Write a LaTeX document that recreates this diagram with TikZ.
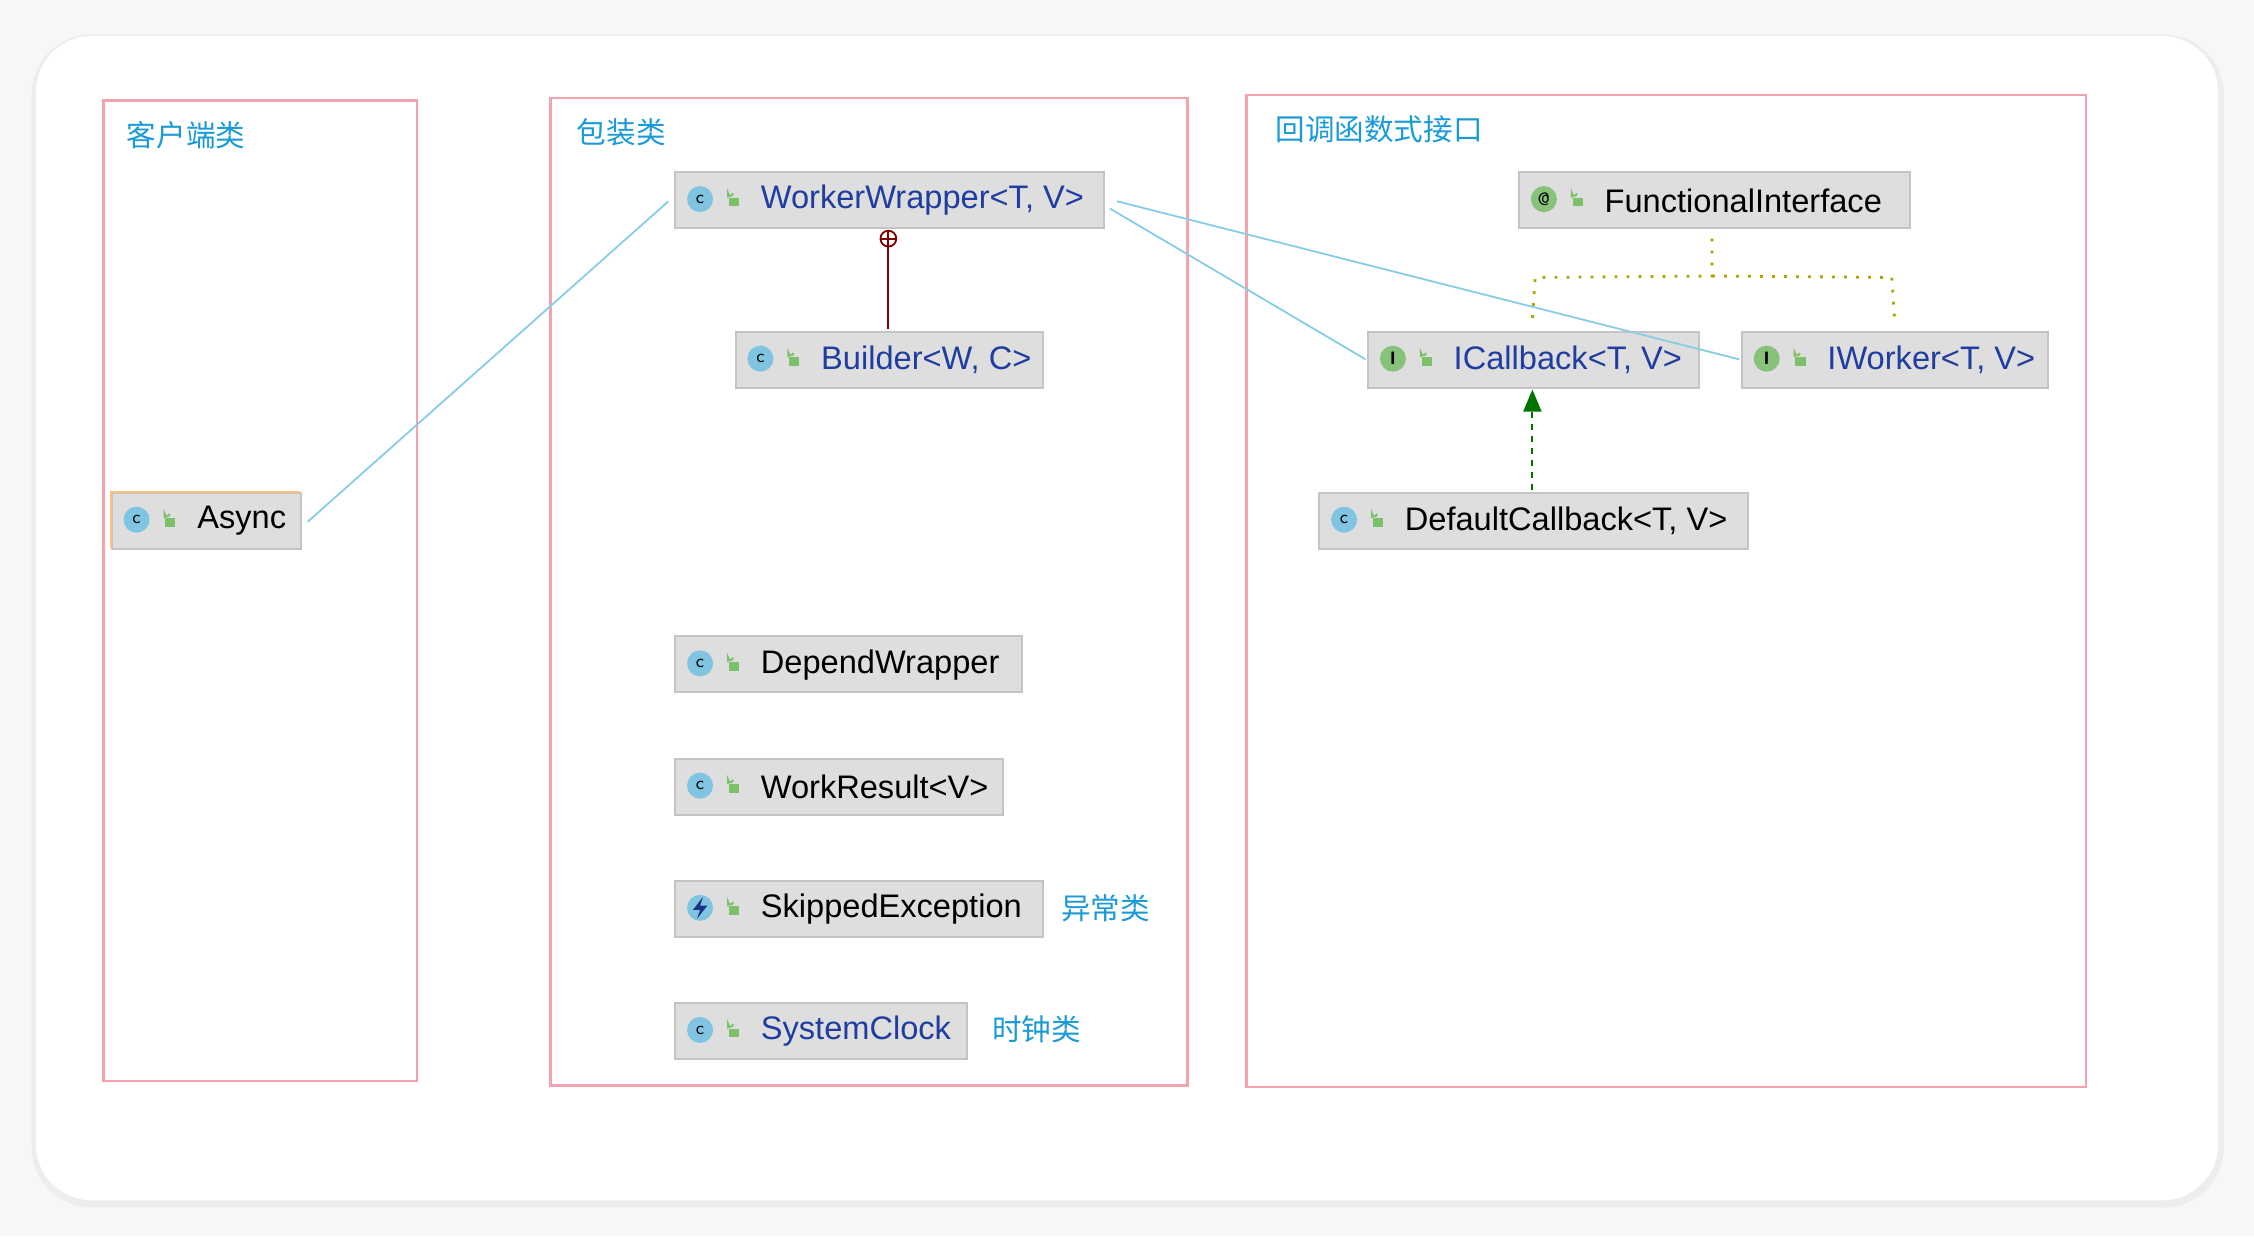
\documentclass[tikz,border=0pt]{standalone}
\usepackage{fontspec}
\setmainfont{Liberation Sans}
\newfontfamily\cjk{Noto Sans CJK SC}
\usetikzlibrary{arrows.meta,calc}
\definecolor{pinkb}{HTML}{F4A3AE}
\definecolor{ttl}{HTML}{1A9AD6}
\definecolor{cblue}{HTML}{1F3DA0}
\definecolor{boxf}{HTML}{DEDEDE}
\definecolor{boxd}{HTML}{C4C4C4}
\definecolor{icc}{HTML}{7FC4E0}
\definecolor{ici}{HTML}{86C27A}
\definecolor{lck}{HTML}{7CC06A}
\definecolor{lnk}{HTML}{86CDE6}
\definecolor{olv}{HTML}{A8A800}
\tikzset{
 panel/.style={draw=pinkb,line width=1.2pt},
 ttlf/.style={text=ttl,font=\cjk\fontsize{14.8}{16}\selectfont,anchor=west,inner sep=0},
 box/.style={draw=boxd,fill=boxf,line width=1pt,anchor=north west,inner sep=0},
 ctext/.style={anchor=west,inner sep=0,font=\fontsize{16.3}{18}\selectfont},
 icon/.style={circle,inner sep=0,minimum size=13pt,font=\sffamily\fontsize{9}{9}\selectfont},
 lnk/.style={draw=lnk,line width=0.9pt},
 dots/.style={olv,line width=1.4pt,dash pattern=on 1.4pt off 4.6pt},
}
\newcommand{\mkcls}[8]{% name x1 y1 x2 y2 iconfill icontext text
 \node[box,minimum width={(#4-#2)*0.71875pt},minimum height={(#5-#3)*0.71875pt}] (#1) at (#2,#3) {};
 \node[icon,fill=#6] (#1-ic) at (#2+18,{(#3+#5)/2}) {#7};
 \fill[lck] (#2+38,{(#3+#5)/2-1}) rectangle (#2+45,{(#3+#5)/2+5});
 \draw[lck,line width=1pt] (#2+37.5,{(#3+#5)/2-1}) -- (#2+37.5,{(#3+#5)/2-4}) arc (180:0:1.7);
 \node[ctext] (#1-t) at (#2+60,{(#3+#5)/2+1}) {#8};
}
\begin{document}
\begin{tikzpicture}[x=0.71875pt,y=-0.71875pt]
\useasboundingbox (0,0) rectangle (1568,860);
\fill[gray!6] (0,0) rectangle (1568,860);
\fill[gray!14,rounded corners=30] (22,24) rectangle (1547,840);
\fill[white,rounded corners=28] (25,25) rectangle (1543,835);
% panels
\draw[panel] (72,70) rectangle (290,752);
\draw[panel] (383,68) rectangle (826,755);
\draw[panel] (867,66) rectangle (1451,756);
\node[ttlf] (t1) at (88,94) {客户端类};
\node[ttlf] (t2) at (401,92) {包装类};
\node[ttlf] (t3) at (887,90) {回调函数式接口};
% classes
\mkcls{ww}{469}{119}{767}{158}{icc}{c}{\textcolor{cblue}{WorkerWrapper<T, V>}}
\mkcls{bd}{511}{230}{725}{269}{icc}{c}{\textcolor{cblue}{Builder<W, C>}}
\mkcls{as}{77}{342}{209}{381}{icc}{c}{Async}
\draw[orange!50,line width=1pt] (77,381) -- (77,342) -- (209,342);
\mkcls{dw}{469}{442}{710}{481}{icc}{c}{DependWrapper}
\mkcls{wr}{469}{527}{697}{566}{icc}{c}{WorkResult<V>}
\mkcls{se}{469}{612}{725}{651}{icc}{}{SkippedException}
\fill[cblue!80!black] (489,624) -- (482,633) -- (487,633) -- (485,639) -- (492,630) -- (487,630) -- cycle;
\mkcls{sc}{469}{697}{672}{736}{icc}{c}{\textcolor{cblue}{SystemClock}}
\mkcls{fi}{1056}{119}{1328}{158}{ici}{@}{FunctionalInterface}
\mkcls{ic}{951}{230}{1181}{269}{ici}{\textbf{I}}{\textcolor{cblue}{ICallback<T, V>}}
\mkcls{iw}{1211}{230}{1424}{269}{ici}{\textbf{I}}{\textcolor{cblue}{IWorker<T, V>}}
\mkcls{dc}{917}{342}{1215}{381}{icc}{c}{DefaultCallback<T, V>}
\node[ttlf] (n1) at (738,632) {异常类};
\node[ttlf] (n2) at (690,716) {时钟类};
% links
\coordinate (a1) at (214,363); \coordinate (a2) at (465,140);
\draw[lnk] (a1) -- (a2);
\coordinate (b1) at (772,145); \coordinate (b2) at (950,250);
\draw[lnk] (b1) -- (b2);
\coordinate (c1) at (777,140); \coordinate (c2) at (1210,250);
\draw[lnk] (c1) -- (c2);
% inner class
\coordinate (p) at (618,166);
\coordinate (q) at (618,229);
\draw[red!50!black,line width=1pt] (p) -- (q);
\draw[red!50!black,line width=0.9pt,fill=white] (p) circle (5.5);
\draw[red!50!black,line width=0.9pt] (612.5,166) -- (623.5,166) (618,160.5) -- (618,171.5);
% dotted
\draw[dots] (1191,166) -- (1191,192) -- (1068,193) -- (1066,222);
\draw[dots] (1191,192) -- (1316,193) -- (1318,222);
% implements
\coordinate (d1) at (1066,341); \coordinate (d2) at (1066,271);
\draw[green!45!black,line width=1pt,dashed,-{Triangle[length=11pt,width=9pt]}] (d1) -- (d2);
\end{tikzpicture}
\end{document}
